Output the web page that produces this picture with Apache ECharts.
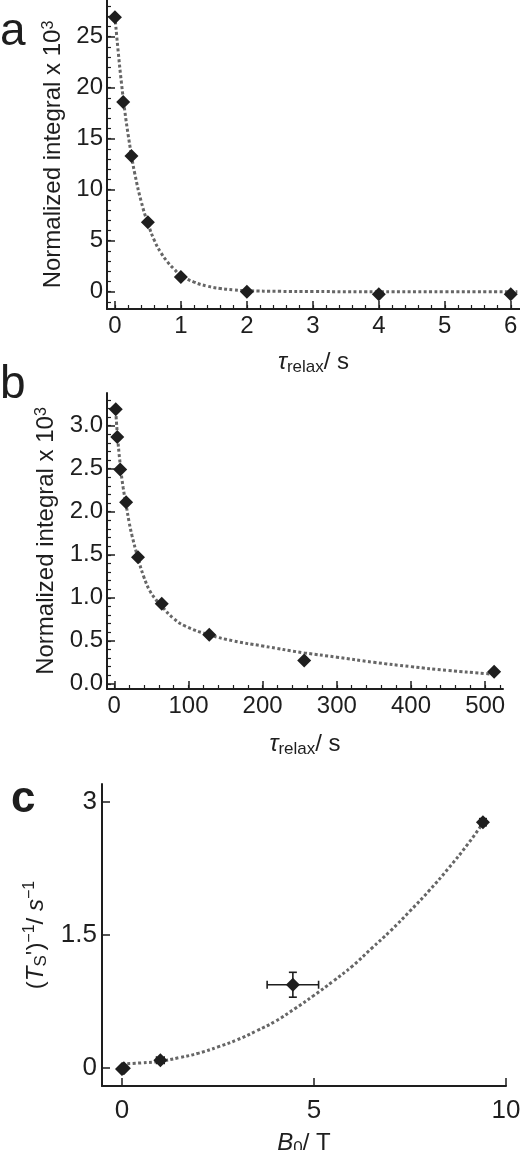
<!DOCTYPE html>
<html>
<head>
<meta charset="utf-8">
<script src="https://cdn.jsdelivr.net/npm/echarts@6/dist/echarts.min.js"></script>
<style>
  html, body { margin: 0; padding: 0; background: #fff; }
  #chart { width: 520px; height: 1150px; }
</style>
</head>
<body>
<div id="chart"></div>
<script>
'use strict';
// panel a: relaxation decay, short time
var aTau = [0, 0.125, 0.25, 0.5, 1, 2, 4, 6];
var aInt = [26.9, 18.6, 13.3, 6.8, 1.45, 0, -0.25, -0.25];
var aFitTau = [0, 0.05, 0.1, 0.15, 0.2, 0.25, 0.3, 0.4, 0.5, 0.6, 0.7, 0.8, 0.9, 1.0, 1.2, 1.4, 1.6, 1.8, 2, 2.5, 3, 4, 5, 6.1];
var aFitInt = [27.0, 23.5, 20.4, 17.7, 15.4, 13.4, 11.6, 8.8, 6.7, 5.0, 3.8, 2.9, 2.2, 1.6, 0.95, 0.55, 0.32, 0.18, 0.1, 0.04, 0.02, 0, 0, 0];
var aXTicks = [0, 1, 2, 3, 4, 5, 6];
var aYTicks = [0, 5, 10, 15, 20, 25];

// panel b: relaxation decay, long time
var bTau = [2, 4, 8, 16, 32, 64, 128, 256, 512];
var bInt = [3.19, 2.87, 2.49, 2.11, 1.47, 0.93, 0.57, 0.27, 0.14];
var bFitTau = [2, 4, 8, 12, 16, 20, 24, 32, 40, 48, 56, 64, 80, 96, 128, 160, 200, 256, 300, 350, 400, 450, 500, 512];
var bFitInt = [3.17, 2.92, 2.55, 2.28, 2.08, 1.88, 1.72, 1.46, 1.24, 1.08, 0.98, 0.9, 0.76, 0.67, 0.57, 0.5, 0.44, 0.36, 0.31, 0.25, 0.2, 0.155, 0.12, 0.11];
var bXTicks = [0, 100, 200, 300, 400, 500];
var bYTicks = [0, 0.5, 1, 1.5, 2, 2.5, 3];
var bYLabels = ['0.0', '0.5', '1.0', '1.5', '2.0', '2.5', '3.0'];

// panel c: rate vs field
var cB = [0, 0.05, 1, 4.45, 9.4];
var cRate = [-0.01, 0, 0.09, 0.94, 2.77];
var cBErr = [0, 0, 0.1, 0.67, 0];
var cRateErr = [0, 0, 0, 0.14, 0.04];
var cFitB = [0, 0.5, 1, 1.5, 2, 2.5, 3, 3.5, 4, 4.5, 5, 5.5, 6, 6.5, 7, 7.5, 8, 8.5, 9, 9.4];
var cFitRate = [0.05, 0.06, 0.08, 0.12, 0.17, 0.24, 0.32, 0.42, 0.53, 0.67, 0.82, 0.98, 1.15, 1.35, 1.55, 1.77, 2.0, 2.25, 2.52, 2.76];
var cXTicks = [0, 5, 10];
var cYTicks = [0, 1.5, 3];
var cYLabels = ['0', '1.5', '3'];

function steps(from, to, step) {
    var out = [];
    for (var v = from; v <= to + 1e-9; v += step) out.push(Math.round(v * 1000) / 1000);
    return out;
}
function zip(xs, ys) {
    return xs.map(function (x, i) { return [x, ys[i]]; });
}

var FONT = 'Liberation Sans';
var INK = '#1e1e1e';

function mainAxis(gridIndex, pos, min, max, ticks, labels, size, margin, extra) {
    var ax = {
        type: 'value', gridIndex: gridIndex, position: pos, min: min, max: max,
        axisLine: { show: true, onZero: false, lineStyle: { color: INK, width: 2 } },
        axisTick: { show: true, inside: true, length: 8, customValues: ticks, lineStyle: { color: INK, width: 1.5 } },
        axisLabel: {
            show: true, customValues: ticks, margin: margin, color: INK, fontFamily: FONT, fontSize: size,
            formatter: function (v) {
                var i = ticks.indexOf(v);
                return labels ? labels[i] : String(v);
            }
        },
        splitLine: { show: false }
    };
    return Object.assign(ax, extra || {});
}
function minorAxis(gridIndex, pos, min, max, ticks) {
    return {
        type: 'value', gridIndex: gridIndex, position: pos, min: min, max: max,
        axisLine: { show: false, onZero: false },
        axisTick: { show: true, inside: true, length: 4, customValues: ticks, lineStyle: { color: INK, width: 1.2 } },
        axisLabel: { show: false, customValues: ticks },
        splitLine: { show: false }
    };
}

var nameRich = {
    n: { fontFamily: FONT, fontSize: 24, color: INK },
    i: { fontFamily: FONT, fontSize: 24, color: INK, fontStyle: 'italic' },
    sub: { fontFamily: FONT, fontSize: 17, color: INK, verticalAlign: 'bottom', padding: [11, 0, 0, 0] },
    sup: { fontFamily: FONT, fontSize: 16, color: INK, verticalAlign: 'top', padding: [0, 0, 10, 0] }
};

var tauName = '{i|τ}{sub|relax}{n|/ s}';
var intName = '{n|Normalized integral x 10}{sup|3}';

var chart = echarts.init(document.getElementById('chart'), null, { renderer: 'canvas' });

var fitLine = { color: '#666', width: 3, type: [3, 2.4] };
var marker = { color: INK, opacity: 1 };

var option = {
    animation: false,
    backgroundColor: '#fff',
    grid: [
        { left: 107, top: 0, width: 413, height: 309, outerBoundsMode: 'none' },
        { left: 107, top: 393, width: 396, height: 296, outerBoundsMode: 'none' },
        { left: 102, top: 784, width: 404, height: 302, outerBoundsMode: 'none' }
    ],
    xAxis: [
        mainAxis(0, 'bottom', -0.12, 6.14, aXTicks, null, 24, 5,
            { name: tauName, nameLocation: 'middle', nameGap: 39, nameTextStyle: { rich: nameRich } }),
        minorAxis(0, 'bottom', -0.12, 6.14, steps(0, 6, 0.2)),
        mainAxis(1, 'bottom', -9.8, 524, bXTicks, null, 24, 5,
            { name: tauName, nameLocation: 'middle', nameGap: 41, nameTextStyle: { rich: nameRich } }),
        minorAxis(1, 'bottom', -9.8, 524, steps(0, 520, 20)),
        mainAxis(2, 'bottom', -0.52, 10, cXTicks, null, 26, 12,
            { name: '{i|B}{sub|0}{n|/ T}', nameLocation: 'middle', nameGap: 43, nameTextStyle: { rich: nameRich } })
    ],
    yAxis: [
        mainAxis(0, 'left', -1.69, 28.58, aYTicks, null, 24, 4,
            { name: intName, nameLocation: 'middle', nameRotate: 90, nameGap: 21, nameTextStyle: { rich: nameRich } }),
        minorAxis(0, 'left', -1.69, 28.58, steps(-1, 28, 1)),
        mainAxis(1, 'left', -0.06, 3.38, bYTicks, bYLabels, 24, 4,
            { name: intName, nameLocation: 'middle', nameRotate: 90, nameGap: 28, nameTextStyle: { rich: nameRich } }),
        minorAxis(1, 'left', -0.06, 3.38, steps(0, 3.3, 0.1)),
        mainAxis(2, 'left', -0.2, 3.2, cYTicks, cYLabels, 26, 5,
            { name: '{n|(}{i|T}{sub|S}{n|\')}{sup|−1}{n|/ }{i|s}{sup|−1}', nameLocation: 'middle', nameRotate: 90, nameGap: 27, nameTextStyle: { rich: nameRich } })
    ],
    graphic: [
        { type: 'text', left: 0, top: 9, style: { text: 'a', fontFamily: FONT, fontSize: 46, fill: INK } },
        { type: 'text', left: 0, top: 362, style: { text: 'b', fontFamily: FONT, fontSize: 46, fill: INK } },
        { type: 'text', left: 11, top: 778, style: { text: 'c', fontFamily: FONT, fontSize: 44, fontWeight: 'bold', fill: INK } }
    ],
    series: [
        { type: 'line', xAxisIndex: 0, yAxisIndex: 0, data: zip(aFitTau, aFitInt), smooth: true, showSymbol: false, lineStyle: fitLine, z: 2 },
        { type: 'scatter', xAxisIndex: 0, yAxisIndex: 0, data: zip(aTau, aInt), symbol: 'diamond', symbolSize: [14, 14], itemStyle: marker, z: 3 },
        { type: 'line', xAxisIndex: 2, yAxisIndex: 2, data: zip(bFitTau, bFitInt), smooth: true, showSymbol: false, lineStyle: fitLine, z: 2 },
        { type: 'scatter', xAxisIndex: 2, yAxisIndex: 2, data: zip(bTau, bInt), symbol: 'diamond', symbolSize: [14, 14], itemStyle: marker, z: 3 },
        { type: 'line', xAxisIndex: 4, yAxisIndex: 4, data: zip(cFitB, cFitRate), smooth: true, showSymbol: false, lineStyle: fitLine, z: 2 },
        {
            type: 'custom', xAxisIndex: 4, yAxisIndex: 4, z: 3,
            data: cB.map(function (b, i) { return [b, cRate[i], cBErr[i], cRateErr[i]]; }),
            renderItem: function (params, api) {
                var x = api.value(0), y = api.value(1), dx = api.value(2), dy = api.value(3);
                var kids = [];
                var st = { stroke: INK, lineWidth: 1.6 };
                if (dx > 0) {
                    var l = api.coord([x - dx, y]), r = api.coord([x + dx, y]);
                    kids.push({ type: 'line', shape: { x1: l[0], y1: l[1], x2: r[0], y2: r[1] }, style: st });
                    kids.push({ type: 'line', shape: { x1: l[0], y1: l[1] - 4, x2: l[0], y2: l[1] + 4 }, style: st });
                    kids.push({ type: 'line', shape: { x1: r[0], y1: r[1] - 4, x2: r[0], y2: r[1] + 4 }, style: st });
                }
                if (dy > 0) {
                    var t = api.coord([x, y + dy]), b = api.coord([x, y - dy]);
                    kids.push({ type: 'line', shape: { x1: t[0], y1: t[1], x2: b[0], y2: b[1] }, style: st });
                    kids.push({ type: 'line', shape: { x1: t[0] - 4, y1: t[1], x2: t[0] + 4, y2: t[1] }, style: st });
                    kids.push({ type: 'line', shape: { x1: b[0] - 4, y1: b[1], x2: b[0] + 4, y2: b[1] }, style: st });
                }
                return { type: 'group', children: kids };
            }
        },
        { type: 'scatter', xAxisIndex: 4, yAxisIndex: 4, data: zip(cB, cRate), symbol: 'diamond', symbolSize: [14, 14], itemStyle: marker, z: 4 }
    ]
};

chart.setOption(option);
window.addEventListener('resize', function () { chart.resize(); });
</script>
</body>
</html>
